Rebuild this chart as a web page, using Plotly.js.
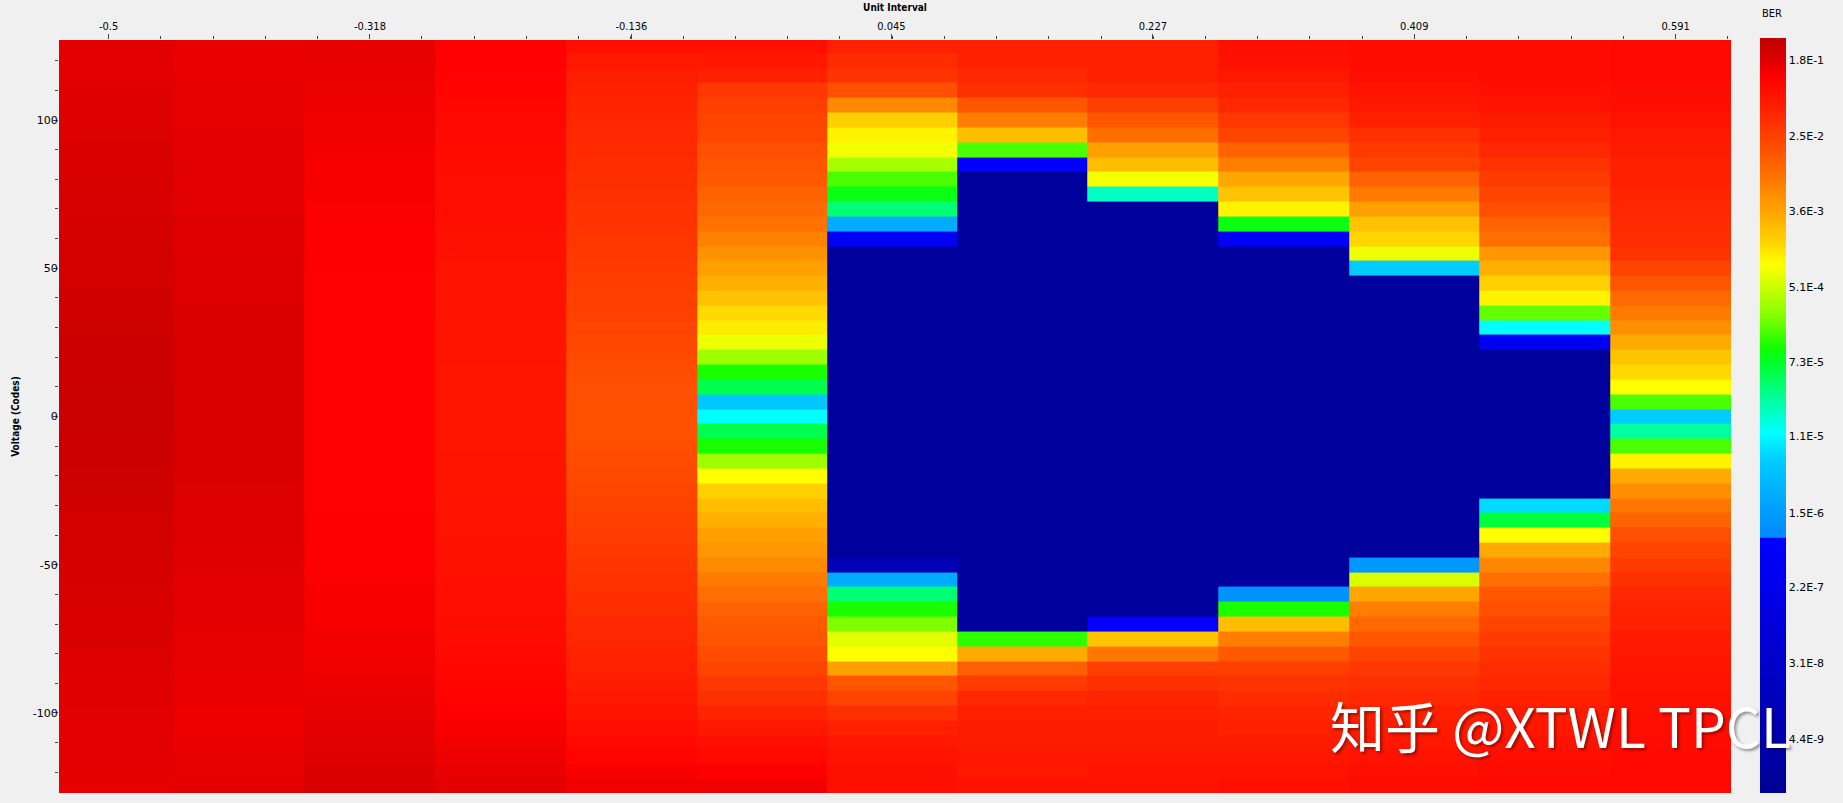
<!DOCTYPE html>
<html><head><meta charset="utf-8">
<script src="https://cdn.plot.ly/plotly-3.0.1.min.js"></script>
<style>html,body{margin:0;padding:0;background:#f0f0f0;} #chart{width:1843px;height:803px;}</style>
</head><body><div id="chart"></div>
<script>
// Unit-interval column centres (x) and voltage rows (y, codes)
const uiColumns = [-0.5, -0.409, -0.318, -0.227, -0.136, -0.045, 0.045, 0.136, 0.227, 0.318, 0.409, 0.5, 0.591];
const voltageCodes = [125,120,115,110,105,100,95,90,85,80,
  75,70,65,60,55,50,45,40,35,30,
  25,20,15,10,5,0,-5,-10,-15,-20,
  -25,-30,-35,-40,-45,-50,-55,-60,-65,-70,
  -75,-80,-85,-90,-95,-100,-105,-110,-115,-120,
  -125];
const uiTickLabels = ['-0.5','-0.318','-0.136','0.045','0.227','0.409','0.591'];
const voltTickLabels = ['100','50','0','-50','-100'];
const berTickLabels = ['1.8E-1','2.5E-2','3.6E-3','5.1E-4','7.3E-5','1.1E-5','1.5E-6','2.2E-7','3.1E-8','4.4E-9'];

// log10(BER) per column, rows from +125 down to -125
const logBER_m0500 = [-0.78,-0.78,-0.77,-0.76,-0.75,-0.75,-0.74,-0.73,-0.72,-0.71,
  -0.70,-0.70,-0.69,-0.68,-0.67,-0.66,-0.65,-0.64,-0.63,-0.62,
  -0.61,-0.60,-0.60,-0.59,-0.59,-0.59,-0.60,-0.60,-0.61,-0.62,
  -0.63,-0.64,-0.65,-0.66,-0.67,-0.68,-0.69,-0.70,-0.71,-0.72,
  -0.73,-0.74,-0.75,-0.76,-0.76,-0.77,-0.78,-0.78,-0.79,-0.79,
  -0.80];
const logBER_m0409 = [-0.81,-0.82,-0.82,-0.81,-0.80,-0.80,-0.79,-0.79,-0.78,-0.78,
  -0.77,-0.77,-0.76,-0.76,-0.75,-0.75,-0.74,-0.74,-0.73,-0.73,
  -0.72,-0.72,-0.72,-0.72,-0.72,-0.72,-0.72,-0.72,-0.73,-0.73,
  -0.74,-0.74,-0.75,-0.75,-0.76,-0.76,-0.77,-0.78,-0.78,-0.79,
  -0.80,-0.80,-0.81,-0.82,-0.82,-0.83,-0.83,-0.82,-0.81,-0.80,
  -0.79];
const logBER_m0318 = [-0.80,-0.81,-0.82,-0.83,-0.84,-0.85,-0.86,-0.87,-0.88,-0.89,
  -0.90,-0.91,-0.92,-0.92,-0.93,-0.93,-0.94,-0.94,-0.94,-0.95,
  -0.95,-0.95,-0.95,-0.95,-0.95,-0.95,-0.95,-0.95,-0.95,-0.95,
  -0.94,-0.94,-0.93,-0.93,-0.92,-0.92,-0.91,-0.90,-0.89,-0.88,
  -0.87,-0.86,-0.85,-0.84,-0.82,-0.81,-0.79,-0.77,-0.75,-0.73,
  -0.72];
const logBER_m0227 = [-0.93,-0.94,-0.96,-0.98,-1.00,-1.02,-1.03,-1.05,-1.06,-1.07,
  -1.08,-1.09,-1.10,-1.11,-1.12,-1.13,-1.13,-1.14,-1.14,-1.15,
  -1.15,-1.15,-1.16,-1.16,-1.16,-1.16,-1.16,-1.16,-1.15,-1.15,
  -1.15,-1.14,-1.14,-1.13,-1.12,-1.11,-1.10,-1.09,-1.08,-1.06,
  -1.05,-1.03,-1.01,-0.99,-0.96,-0.93,-0.90,-0.87,-0.84,-0.81,
  -0.79];
const logBER_m0136 = [-1.10,-1.20,-1.25,-1.28,-1.31,-1.34,-1.36,-1.38,-1.40,-1.42,
  -1.44,-1.46,-1.48,-1.50,-1.52,-1.54,-1.56,-1.58,-1.60,-1.62,
  -1.66,-1.69,-1.71,-1.73,-1.74,-1.74,-1.74,-1.72,-1.70,-1.67,
  -1.64,-1.61,-1.58,-1.55,-1.52,-1.49,-1.46,-1.43,-1.40,-1.37,
  -1.34,-1.31,-1.28,-1.24,-1.20,-1.15,-1.09,-1.02,-0.96,-0.90,
  -0.86];
const logBER_m0045 = [-1.10,-1.19,-1.28,-1.51,-1.58,-1.63,-1.66,-1.73,-1.77,-1.83,
  -1.90,-1.96,-2.03,-2.17,-2.29,-2.39,-2.52,-2.66,-2.82,-2.92,
  -3.12,-3.50,-3.95,-4.26,-5.28,-4.92,-4.26,-3.95,-3.50,-3.03,
  -2.77,-2.63,-2.52,-2.39,-2.33,-2.23,-2.11,-2.00,-1.90,-1.83,
  -1.77,-1.70,-1.63,-1.51,-1.44,-1.32,-1.19,-1.10,-1.02,-0.93,
  -0.85];
const logBER_p0045 = [-1.28,-1.40,-1.47,-1.73,-2.23,-2.77,-2.96,-3.10,-3.46,-3.80,
  -4.05,-4.40,-5.62,-6.40,-8.80,-8.80,-8.80,-8.80,-8.80,-8.80,
  -8.80,-8.80,-8.80,-8.80,-8.80,-8.80,-8.80,-8.80,-8.80,-8.80,
  -8.80,-8.80,-8.80,-8.80,-8.80,-8.07,-5.62,-4.40,-3.95,-3.63,
  -3.18,-3.03,-2.39,-1.80,-1.63,-1.44,-1.28,-1.19,-1.14,-1.10,
  -1.10];
const logBER_p0136 = [-1.28,-1.28,-1.36,-1.44,-1.80,-2.14,-2.63,-3.80,-6.20,-8.80,
  -8.80,-8.80,-8.80,-8.80,-8.80,-8.80,-8.80,-8.80,-8.80,-8.80,
  -8.80,-8.80,-8.80,-8.80,-8.80,-8.80,-8.80,-8.80,-8.80,-8.80,
  -8.80,-8.80,-8.80,-8.80,-8.80,-8.80,-8.80,-8.80,-8.80,-8.80,
  -3.89,-2.48,-1.87,-1.54,-1.36,-1.28,-1.23,-1.23,-1.19,-1.19,
  -1.14];
const logBER_p0227 = [-1.28,-1.28,-1.28,-1.36,-1.58,-1.80,-2.00,-2.39,-2.63,-3.08,
  -4.69,-8.80,-8.80,-8.80,-8.80,-8.80,-8.80,-8.80,-8.80,-8.80,
  -8.80,-8.80,-8.80,-8.80,-8.80,-8.80,-8.80,-8.80,-8.80,-8.80,
  -8.80,-8.80,-8.80,-8.80,-8.80,-8.80,-8.80,-8.80,-8.80,-6.20,
  -2.68,-2.08,-1.58,-1.44,-1.32,-1.28,-1.23,-1.23,-1.19,-1.14,
  -1.14];
const logBER_p0318 = [-1.10,-1.14,-1.19,-1.28,-1.36,-1.51,-1.63,-1.90,-2.14,-2.45,
  -2.68,-2.96,-4.05,-6.30,-8.80,-8.80,-8.80,-8.80,-8.80,-8.80,
  -8.80,-8.80,-8.80,-8.80,-8.80,-8.80,-8.80,-8.80,-8.80,-8.80,
  -8.80,-8.80,-8.80,-8.80,-8.80,-8.80,-8.80,-5.95,-3.95,-2.63,
  -2.14,-1.83,-1.58,-1.47,-1.40,-1.32,-1.28,-1.23,-1.19,-1.14,
  -1.10];
const logBER_p0409 = [-1.06,-1.06,-1.10,-1.14,-1.20,-1.28,-1.44,-1.54,-1.63,-1.90,
  -2.11,-2.39,-2.66,-2.80,-3.12,-5.24,-8.80,-8.80,-8.80,-8.80,
  -8.80,-8.80,-8.80,-8.80,-8.80,-8.80,-8.80,-8.80,-8.80,-8.80,
  -8.80,-8.80,-8.80,-8.80,-8.80,-5.87,-3.22,-2.45,-2.14,-1.96,
  -1.80,-1.63,-1.51,-1.44,-1.36,-1.28,-1.23,-1.19,-1.14,-1.10,
  -1.06];
const logBER_p0500 = [-1.06,-1.06,-1.06,-1.10,-1.14,-1.23,-1.28,-1.36,-1.47,-1.54,
  -1.63,-1.73,-1.90,-2.00,-2.33,-2.52,-2.77,-2.96,-3.72,-4.92,
  -6.45,-8.80,-8.80,-8.80,-8.80,-8.80,-8.80,-8.80,-8.80,-8.80,
  -8.80,-5.15,-4.20,-3.03,-2.48,-2.20,-2.00,-1.80,-1.73,-1.63,
  -1.54,-1.47,-1.40,-1.36,-1.28,-1.23,-1.19,-1.14,-1.10,-1.06,
  -1.02];
const logBER_p0591 = [-1.02,-1.02,-1.02,-1.06,-1.10,-1.14,-1.19,-1.23,-1.28,-1.28,
  -1.32,-1.36,-1.38,-1.42,-1.47,-1.63,-1.77,-1.96,-2.11,-2.27,
  -2.48,-2.68,-2.82,-3.03,-3.80,-5.24,-4.55,-3.80,-2.96,-2.48,
  -2.27,-2.08,-1.90,-1.73,-1.63,-1.54,-1.44,-1.36,-1.32,-1.28,
  -1.23,-1.19,-1.16,-1.14,-1.12,-1.10,-1.08,-1.06,-1.04,-1.02,
  -1.02];

const columns = [logBER_m0500, logBER_m0409, logBER_m0318, logBER_m0227, logBER_m0136, logBER_m0045,
  logBER_p0045, logBER_p0136, logBER_p0227, logBER_p0318, logBER_p0409, logBER_p0500, logBER_p0591];

const z = voltageCodes.map((v, r) => columns.map(col => col[r]));
const ber = z.map(row => row.map(l => Math.pow(10, l).toExponential(1).toUpperCase()));

const ZMIN = -8.96, ZMAX = -0.50;
const colorscale = [
  [0, '#000096'], [0.338, '#0000ff'], [0.3385, '#0088ff'], [0.368, '#0099ff'],
  [0.44, '#00ccff'], [0.477, '#00ffff'], [0.521, '#00ffa0'], [0.567, '#00ff30'],
  [0.589, '#10ff00'], [0.630, '#80ff00'], [0.668, '#c8ff00'], [0.701, '#ffff00'],
  [0.732, '#ffd000'], [0.766, '#ffaa00'], [0.813, '#ff7700'], [0.866, '#ff4400'],
  [0.915, '#ff1a00'], [0.949, '#ff0000'], [0.971, '#dd0000'], [1, '#c00000']
];

const PLOT_L = 59, PLOT_R = 1731, PLOT_T = 40, PLOT_B = 793;
const plotW = PLOT_R - PLOT_L, plotH = PLOT_B - PLOT_T;

const trace = {
  type: 'heatmap',
  x: uiColumns, y: voltageCodes, z: z,
  customdata: ber,
  zmin: ZMIN, zmax: ZMAX, colorscale: colorscale, zsmooth: false,
  hovertemplate: 'UI %{x}<br>Voltage %{y}<br>BER %{customdata}<extra></extra>',
  colorbar: {
    thickness: 26, thicknessmode: 'pixels',
    len: 755, lenmode: 'pixels',
    y: 1 + (PLOT_T - 38) / plotH, yanchor: 'top',
    x: (1760 - PLOT_L) / plotW, xanchor: 'left', xpad: 0, ypad: 0,
    outlinewidth: 0,
    tickmode: 'array',
    tickvals: berTickLabels.map(s => Math.log10(parseFloat(s))),
    ticktext: berTickLabels,
    ticks: '', ticklen: 0,
    tickfont: {family: 'DejaVu Sans', size: 11, color: '#000'}
  }
};

const axisFont = {family: 'DejaVu Sans Condensed, DejaVu Sans, sans-serif', size: 11, color: '#000'};

const layout = {
  width: 1843, height: 803,
  margin: {l: PLOT_L, r: 1843 - PLOT_R, t: PLOT_T, b: 803 - PLOT_B, pad: 0},
  paper_bgcolor: '#f0f0f0', plot_bgcolor: '#f0f0f0',
  xaxis: {
    side: 'top', range: [-0.5345, 0.6295],
    tickmode: 'array', tickvals: uiTickLabels.map(Number), ticktext: uiTickLabels,
    ticks: 'outside', ticklen: 5, tickcolor: '#444', tickwidth: 1,
    minor: {tickmode: 'linear', tick0: -0.5, dtick: 0.0363636, ticks: 'outside', ticklen: 3, tickcolor: '#444', showgrid: false},
    showgrid: false, zeroline: false, showline: false,
    tickfont: axisFont,
    title: {text: '<b>Unit Interval</b>', standoff: 6, font: {family: 'DejaVu Sans Condensed, DejaVu Sans, sans-serif', size: 10, color: '#000'}}
  },
  yaxis: {
    range: [-127, 127],
    tickmode: 'array', tickvals: voltTickLabels.map(Number), ticktext: voltTickLabels,
    ticks: 'outside', ticklen: 5, tickcolor: '#444', tickwidth: 1,
    ticklabelstandoff: -7,
    minor: {tickmode: 'linear', tick0: 0, dtick: 10, ticks: 'outside', ticklen: 3, tickcolor: '#444', showgrid: false},
    showgrid: false, zeroline: false, showline: false,
    tickfont: {family: 'DejaVu Sans', size: 11, color: '#000'},
    title: {text: '<b>Voltage (Codes)</b>', standoff: 11, font: {family: 'DejaVu Sans Condensed, DejaVu Sans, sans-serif', size: 10, color: '#000'}}
  },
  annotations: [{
    text: 'BER', xref: 'paper', yref: 'paper',
    x: (1760 - PLOT_L) / plotW, y: 1 + (PLOT_T - 13) / plotH,
    xanchor: 'left', yanchor: 'middle', showarrow: false,
    font: {family: 'DejaVu Sans Condensed, DejaVu Sans, sans-serif', size: 11, color: '#000'}
  }, {
    text: '知乎 @XTWL TPCL', xref: 'paper', yref: 'paper',
    x: (1560 - PLOT_L) / plotW, y: (PLOT_B - 724) / plotH,
    xanchor: 'center', yanchor: 'middle', showarrow: false,
    font: {family: 'Noto Sans CJK SC', size: 55, color: '#ffffff', shadow: '2px 2px 3px rgba(0,0,0,0.4)'}
  }]
};

Plotly.newPlot('chart', [trace], layout, {displayModeBar: false, staticPlot: true});
</script></body></html>
